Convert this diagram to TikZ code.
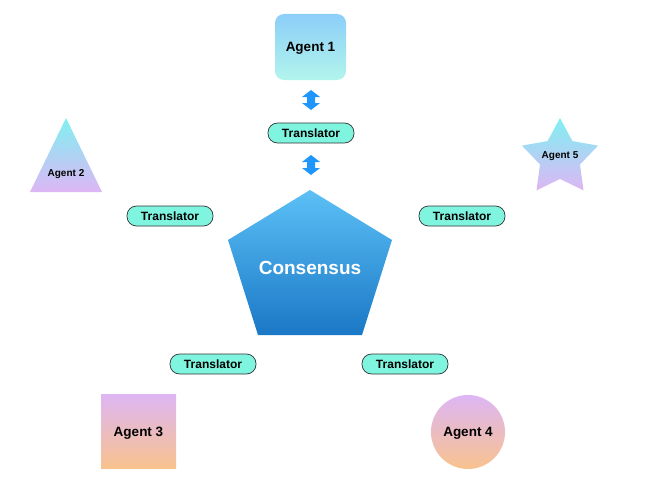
\documentclass[tikz,border=0pt]{standalone}
\usepackage{fontspec}
\setmainfont{Liberation Sans}
\definecolor{trf}{HTML}{7FF5DF}
\definecolor{arr}{HTML}{1E96FA}
\definecolor{cy}{HTML}{80F0F2}
\definecolor{vi}{HTML}{DDB6F4}
\definecolor{orng}{HTML}{F8C28E}
\definecolor{a1top}{HTML}{8CCEF8}
\definecolor{a1bot}{HTML}{B2F5EC}
\definecolor{ptop}{HTML}{5CC0F6}
\definecolor{pbot}{HTML}{1A78C6}
\begin{document}
\begin{tikzpicture}[x=1pt,y=-1pt,
  trans/.style={draw=black!80,line width=0.7pt,fill=trf,rounded corners=9.5pt,minimum width=86pt,minimum height=20pt,inner sep=1pt,font=\bfseries\fontsize{12}{13}\selectfont},
  lbl/.style={font=\bfseries\fontsize{13.5}{15}\selectfont}]
\useasboundingbox (0,0) rectangle (661,487);
% Agent 1
\shade[top color=a1top, bottom color=a1bot, rounded corners=9pt] (275,14) rectangle (346,80);
\node[lbl] (a1) at (310.5,48) {Agent 1};
% arrows
\fill[arr] (311,90) -- (320,97) -- (315,97) -- (315,103) -- (320,103) -- (311,110) -- (302,103) -- (307,103) -- (307,97) -- (302,97) -- cycle;
\fill[arr] (311,155) -- (320,162) -- (315,162) -- (315,168) -- (320,168) -- (311,175) -- (302,168) -- (307,168) -- (307,162) -- (302,162) -- cycle;
% translators
\node[trans] (t1) at (311,133) {Translator};
\node[trans] (t2) at (170,216) {Translator};
\node[trans] (t5) at (462,216) {Translator};
\node[trans] (t3) at (213,364) {Translator};
\node[trans] (t4) at (405,364) {Translator};
% Agent 2 triangle
\shade[top color=cy, bottom color=vi] (66,118) -- (102,192) -- (30,192) -- cycle;
\node[font=\bfseries\fontsize{10}{11}\selectfont] (a2) at (66,174) {Agent 2};
% Agent 5 star
\shade[top color=cy, bottom color=vi] (560,118)
  \foreach \i in {1,...,9} { -- ({560+(mod(\i,2)==1 ? 21 : 40)*sin(36*\i)}, {158-(mod(\i,2)==1 ? 21 : 40)*cos(36*\i)}) } -- cycle;
\node[font=\bfseries\fontsize{10}{11}\selectfont] (a5) at (560,156) {Agent 5};
% pentagon
\shade[top color=ptop, bottom color=pbot] (310,190) -- (392,240) -- (362,335) -- (258,335) -- (228,240) -- cycle;
\node[font=\bfseries\fontsize{19}{21}\selectfont, text=white] (c) at (310,268) {Consensus};
% Agent 3
\shade[top color=vi, bottom color=orng] (101,394) rectangle (176,468);
\node[lbl] (a3) at (138.5,433) {Agent 3};
% Agent 4
\shade[top color=vi, bottom color=orng] (468,432) circle (37);
\node[lbl] (a4) at (468,433) {Agent 4};
\end{tikzpicture}
\end{document}
